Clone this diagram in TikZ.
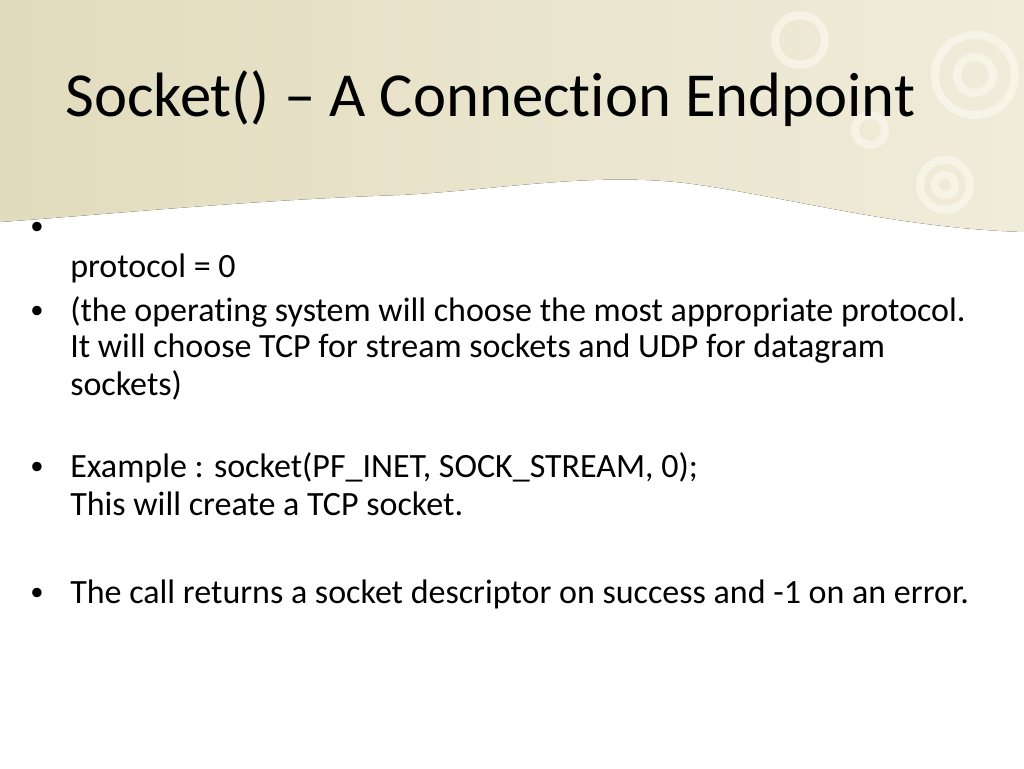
\documentclass[tikz,border=0pt]{standalone}
\usepackage{fontspec}
\setmainfont[Contextuals=NoAlternate,Ligatures=NoCommon]{Carlito}
\begin{document}
\begin{tikzpicture}[x=0.75pt,y=-0.75pt,
  body/.style={anchor=west,inner sep=0pt,font=\fontsize{25.5}{30}\selectfont},
  bul/.style={anchor=west,inner sep=0pt,font=\fontsize{20}{24}\selectfont}]
\useasboundingbox (0,0) rectangle (1024,768);
\fill[white] (0,0) rectangle (1024,768);
\fill[left color={rgb,255:red,226;green,220;blue,190},right color={rgb,255:red,240;green,236;blue,218}]
  (0,0) -- (1024,0) -- (1024,232) .. controls (900,228) and (800,200) .. (700,185)
  .. controls (600,170) and (500,190) .. (400,195) .. controls (250,200) and (100,215) .. (0,222) -- cycle;
\begin{scope}[draw={rgb,255:red,250;green,248;blue,238},line width=6pt,opacity=0.7]
\draw (975,75) circle (40); \draw (975,75) circle (18);
\draw (945,185) circle (25); \draw (945,185) circle (10);
\draw (800,40) circle (25); \draw (870,130) circle (15);
\end{scope}
\node[anchor=base west,inner sep=0pt,font=\fontsize{47}{56}\selectfont] (title) at (65,116) {Socket() – A Connection Endpoint};
\node[bul] (b1) at (30,228) {•};
\node[body] (t1) at (70,268) {protocol = 0};
\node[bul] (b2) at (30,312) {•};
\node[body] (t2a) at (70,312) {(the operating system will choose the most appropriate protocol.};
\node[body] (t2b) at (70,349) {It will choose TCP for stream sockets and UDP for datagram};
\node[body] (t2c) at (70,385) {sockets)};
\node[bul] (b3) at (30,468) {•};
\node[body] (t3a) at (70,468) {Example : socket(PF\_INET, SOCK\_STREAM, 0);};
\node[body] (t3b) at (70,504) {This will create a TCP socket.};
\node[bul] (b4) at (30,594) {•};
\node[body] (t4) at (70,594) {The call returns a socket descriptor on success and -1 on an error.};
\end{tikzpicture}
\end{document}
